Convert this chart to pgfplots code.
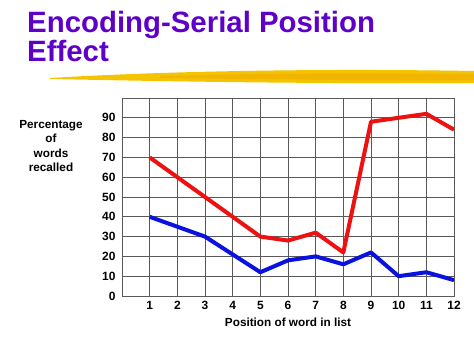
\documentclass[border=0pt]{standalone}
\usepackage{pgfplots}
\pgfplotsset{compat=1.18}
\usepackage{fontspec}
\setmainfont{Liberation Sans}
\definecolor{titlepurple}{HTML}{5E00C8}
\definecolor{brushA}{HTML}{F5C400}
\definecolor{brushB}{HTML}{F0B000}
\definecolor{redline}{HTML}{EE1111}
\definecolor{blueline}{HTML}{0A12E0}
\begin{document}
\begin{tikzpicture}
\path[use as bounding box] (0bp,0bp) rectangle (474bp,355bp);
% title
\node[anchor=base west,inner sep=0,font=\fontsize{29.5}{31}\selectfont\bfseries,text=titlepurple] at (27bp,322bp) {Encoding-Serial Position};
\node[anchor=base west,inner sep=0,font=\fontsize{29.5}{31}\selectfont\bfseries,text=titlepurple] at (27bp,293bp) {Effect};
% brush stroke decoration
\fill[brushA] (50bp,277bp) .. controls (150bp,283bp) and (300bp,287bp) .. (474bp,284bp)
  -- (474bp,272bp) .. controls (300bp,271bp) and (150bp,274bp) .. (50bp,276bp) -- cycle;
\fill[brushB,opacity=0.7] (160bp,279bp) .. controls (260bp,282bp) and (360bp,282bp) .. (474bp,281bp)
  -- (474bp,275bp) .. controls (360bp,274bp) and (260bp,276bp) .. (160bp,277bp) -- cycle;
% y label
\node[align=center,font=\fontsize{11.8}{14.3}\selectfont\bfseries,anchor=north] at (51bp,238bp) {Percentage\\of\\words\\recalled};
\begin{axis}[
  at={(122bp,59bp)}, anchor=south west,
  scale only axis, width=332bp, height=198bp,
  xmin=0, xmax=12, ymin=0, ymax=100,
  xtick={0,...,12}, xticklabels={,1,2,3,4,5,6,7,8,9,10,11,12},
  ytick={0,10,...,100}, yticklabels={0,10,20,30,40,50,60,70,80,90,},
  grid=major,
  major grid style={draw=black!65, line width=0.8bp},
  axis line style={draw=black!65, line width=0.9bp},
  major tick length=0pt,
  /pgf/number format/assume math mode=true,
  ticklabel style={font=\fontsize{12}{13}\selectfont\bfseries},
  yticklabel style={xshift=-3bp},
  xticklabel style={yshift=-2bp},
  xlabel={Position of word in list},
  xlabel style={font=\fontsize{11.8}{13}\selectfont\bfseries, yshift=-1bp},
]
\addplot[draw=redline, line width=4bp, line join=round] coordinates {
(1,70) (2,60) (3,50) (4,40) (5,30) (6,28) (7,32) (8,22) (9,88) (10,90) (11,92) (12,84)};
\addplot[draw=blueline, line width=4bp, line join=round] coordinates {
(1,40) (2,35) (3,30) (4,21) (5,12) (6,18) (7,20) (8,16) (9,22) (10,10) (11,12) (12,8)};
\end{axis}
\end{tikzpicture}
\end{document}
